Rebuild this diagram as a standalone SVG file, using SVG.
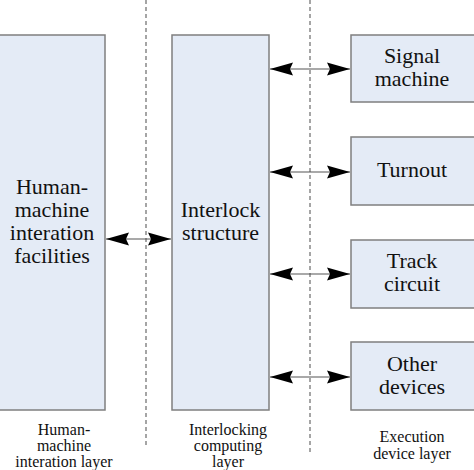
<svg xmlns="http://www.w3.org/2000/svg" width="474" height="470" viewBox="0 0 474 470">
<defs>
<marker id="ah" markerUnits="userSpaceOnUse" markerWidth="24" markerHeight="14" refX="23" refY="7" orient="auto-start-reverse" viewBox="0 0 24 14">
<path d="M0,0.5 L23,7 L0,13.5 L3,7 Z" fill="#000"/>
</marker>
</defs>
<rect width="474" height="470" fill="#fff"/>
<g id="dividers" stroke="#6a6a6a" stroke-width="1.2" stroke-dasharray="4 3" fill="none">
<line x1="146" y1="0" x2="146" y2="445"/>
<line x1="310" y1="0" x2="310" y2="452"/>
</g>
<g id="hmi">
<rect x="-2" y="35" width="107" height="375" fill="#e4ebf6" stroke="#7f7f7f" stroke-width="1.5"/>
<text x="52" y="194" style="font-family:'Liberation Serif',serif;font-size:22px" fill="#111" text-anchor="middle">Human-</text>
<text x="52" y="217" style="font-family:'Liberation Serif',serif;font-size:22px" fill="#111" text-anchor="middle">machine</text>
<text x="52" y="240" style="font-family:'Liberation Serif',serif;font-size:22px" fill="#111" text-anchor="middle">interation</text>
<text x="52" y="263" style="font-family:'Liberation Serif',serif;font-size:22px" fill="#111" text-anchor="middle">facilities</text>
</g>
<g id="interlock">
<rect x="172" y="35" width="97" height="375" fill="#e4ebf6" stroke="#7f7f7f" stroke-width="1.5"/>
<text x="220.5" y="217" style="font-family:'Liberation Serif',serif;font-size:22px" fill="#111" text-anchor="middle">Interlock</text>
<text x="220.5" y="240" style="font-family:'Liberation Serif',serif;font-size:22px" fill="#111" text-anchor="middle">structure</text>
</g>
<g id="signal">
<rect x="351" y="35" width="130" height="67" fill="#e4ebf6" stroke="#7f7f7f" stroke-width="1.5"/>
<text x="412" y="63" style="font-family:'Liberation Serif',serif;font-size:22px" fill="#111" text-anchor="middle">Signal</text>
<text x="412" y="86" style="font-family:'Liberation Serif',serif;font-size:22px" fill="#111" text-anchor="middle">machine</text>
</g>
<g id="turnout">
<rect x="351" y="137" width="130" height="68" fill="#e4ebf6" stroke="#7f7f7f" stroke-width="1.5"/>
<text x="412" y="177" style="font-family:'Liberation Serif',serif;font-size:22px" fill="#111" text-anchor="middle">Turnout</text>
</g>
<g id="track">
<rect x="351" y="240" width="130" height="68" fill="#e4ebf6" stroke="#7f7f7f" stroke-width="1.5"/>
<text x="412" y="268" style="font-family:'Liberation Serif',serif;font-size:22px" fill="#111" text-anchor="middle">Track</text>
<text x="412" y="291" style="font-family:'Liberation Serif',serif;font-size:22px" fill="#111" text-anchor="middle">circuit</text>
</g>
<g id="other">
<rect x="351" y="342" width="130" height="68" fill="#e4ebf6" stroke="#7f7f7f" stroke-width="1.5"/>
<text x="412" y="371" style="font-family:'Liberation Serif',serif;font-size:22px" fill="#111" text-anchor="middle">Other</text>
<text x="412" y="394" style="font-family:'Liberation Serif',serif;font-size:22px" fill="#111" text-anchor="middle">devices</text>
</g>
<g id="layer-labels">
<text x="64" y="435" style="font-family:'Liberation Serif',serif;font-size:16px" fill="#111" text-anchor="middle">Human-</text>
<text x="64" y="451" style="font-family:'Liberation Serif',serif;font-size:16px" fill="#111" text-anchor="middle">machine</text>
<text x="64" y="467" style="font-family:'Liberation Serif',serif;font-size:16px" fill="#111" text-anchor="middle">interation layer</text>
<text x="228" y="435" style="font-family:'Liberation Serif',serif;font-size:16px" fill="#111" text-anchor="middle">Interlocking</text>
<text x="228" y="451" style="font-family:'Liberation Serif',serif;font-size:16px" fill="#111" text-anchor="middle">computing</text>
<text x="228" y="467" style="font-family:'Liberation Serif',serif;font-size:16px" fill="#111" text-anchor="middle">layer</text>
<text x="412" y="442" style="font-family:'Liberation Serif',serif;font-size:16px" fill="#111" text-anchor="middle">Execution</text>
<text x="412" y="459" style="font-family:'Liberation Serif',serif;font-size:16px" fill="#111" text-anchor="middle">device layer</text>
</g>
<g id="connectors" stroke="#555" stroke-width="1.2" fill="none" marker-start="url(#ah)" marker-end="url(#ah)">
<line x1="106" y1="239" x2="171" y2="239"/>
<line x1="270" y1="69" x2="350" y2="69"/>
<line x1="270" y1="172" x2="350" y2="172"/>
<line x1="270" y1="274" x2="350" y2="274"/>
<line x1="270" y1="377" x2="350" y2="377"/>
</g>
</svg>
